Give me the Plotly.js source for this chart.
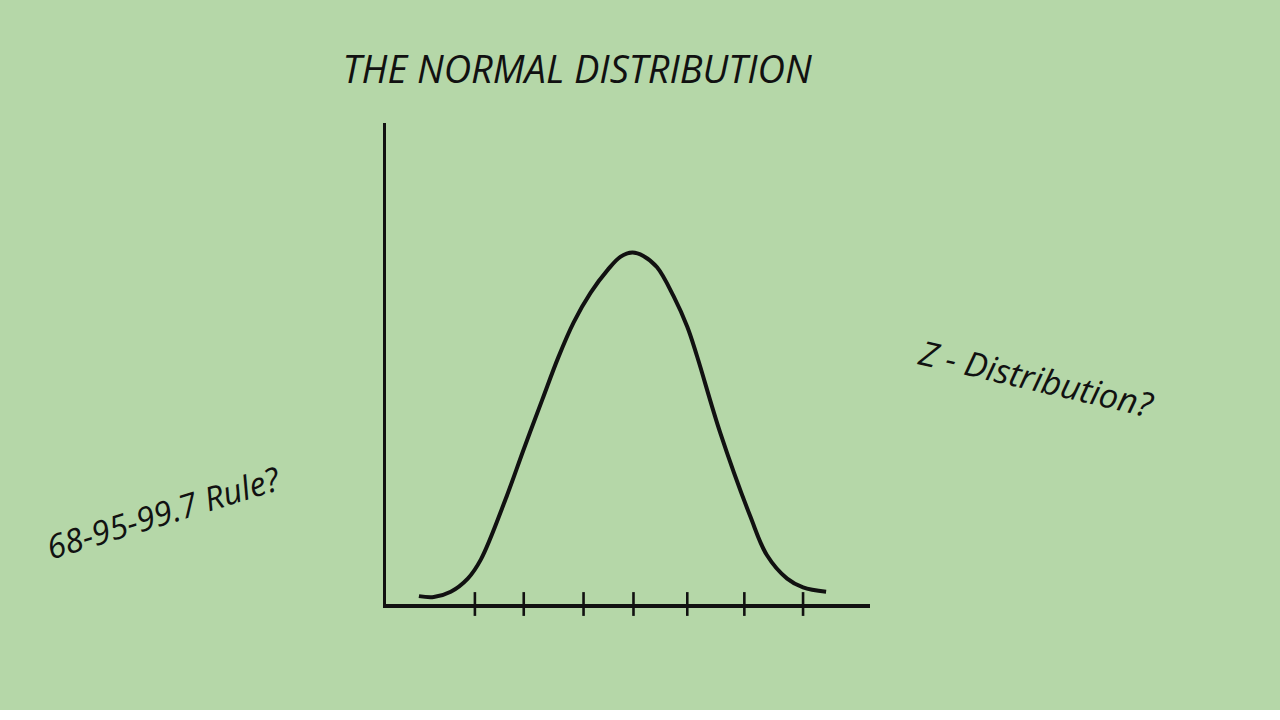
<!DOCTYPE html>
<html>
<head>
<meta charset="utf-8">
<script src="https://cdn.plot.ly/plotly-3.0.1.min.js"></script>
<style>
  html, body { margin: 0; padding: 0; background: #ffffff; }
  #chart { width: 1280px; height: 710px; }
</style>
</head>
<body>
<div id="chart"></div>
<script>
// Hand-drawn normal curve (x in standard units, y density)
const zValues = [-3.89, -3.62, -3.31, -3.00, -2.76, -2.31, -1.98, -1.64, -1.35, -1.07, -0.76, -0.45, -0.22,
                 0.00, 0.20, 0.45, 0.75, 1.00, 1.18, 1.60, 2.15, 2.45, 2.82, 3.11, 3.53];
const density = [0.009, 0.008, 0.014, 0.029, 0.051, 0.120, 0.177, 0.234, 0.282, 0.322, 0.356, 0.382, 0.397,
                 0.402, 0.398, 0.385, 0.352, 0.317, 0.283, 0.196, 0.100, 0.056, 0.029, 0.019, 0.014];
// hand-drawn tick marks on the horizontal axis (standard units)
const tickZ = [-2.87, -1.98, -0.89, 0.02, 1.00, 2.04, 3.11];
const tickBase = [0, 0, 0, 0, 0, 0, 0];

const titleText = "THE NORMAL DISTRIBUTION";
const leftNote = "68-95-99.7 Rule?";
const rightNote = "Z - Distribution?";

const ink = "#111111";
const bg = "#b5d7a8";
const handFont = { family: "Open Sans, DejaVu Sans, sans-serif", color: ink, style: "italic", weight: 400 };

const traces = [
  {
    x: zValues, y: density, type: "scatter", mode: "lines",
    line: { color: ink, width: 4, shape: "spline", smoothing: 1 },
    hoverinfo: "skip", cliponaxis: false
  },
  {
    x: tickZ, y: tickBase, type: "scatter", mode: "markers",
    marker: { symbol: "line-ns", size: 17, color: ink, line: { color: ink, width: 2.6 } },
    hoverinfo: "skip", cliponaxis: false
  }
];

const layout = {
  width: 1280, height: 710,
  paper_bgcolor: bg, plot_bgcolor: bg,
  showlegend: false,
  margin: { l: 386, r: 410, t: 123, b: 106, pad: 0 },
  title: {
    text: titleText,
    font: Object.assign({}, handFont, { size: 38 }),
    xref: "paper", x: 0.395, xanchor: "center",
    yref: "container", y: 0.902, yanchor: "middle"
  },
  xaxis: {
    range: [-4.49, 4.33], showgrid: false, zeroline: false, showticklabels: false, ticks: "",
    showline: true, linecolor: ink, linewidth: 3.5, fixedrange: true
  },
  yaxis: {
    range: [0, 0.55], showgrid: false, zeroline: false, showticklabels: false, ticks: "",
    showline: true, linecolor: ink, linewidth: 3.5, fixedrange: true
  },
  annotations: [
    {
      text: leftNote, xref: "paper", yref: "paper", x: -0.461, y: 0.19,
      xanchor: "center", yanchor: "middle", showarrow: false, textangle: -17,
      font: Object.assign({}, handFont, { size: 33 })
    },
    {
      text: rightNote, xref: "paper", yref: "paper", x: 1.343, y: 0.469,
      xanchor: "center", yanchor: "middle", showarrow: false, textangle: 13,
      font: Object.assign({}, handFont, { size: 34 })
    }
  ]
};

Plotly.newPlot("chart", traces, layout, { displayModeBar: false, staticPlot: true });
</script>
</body>
</html>
